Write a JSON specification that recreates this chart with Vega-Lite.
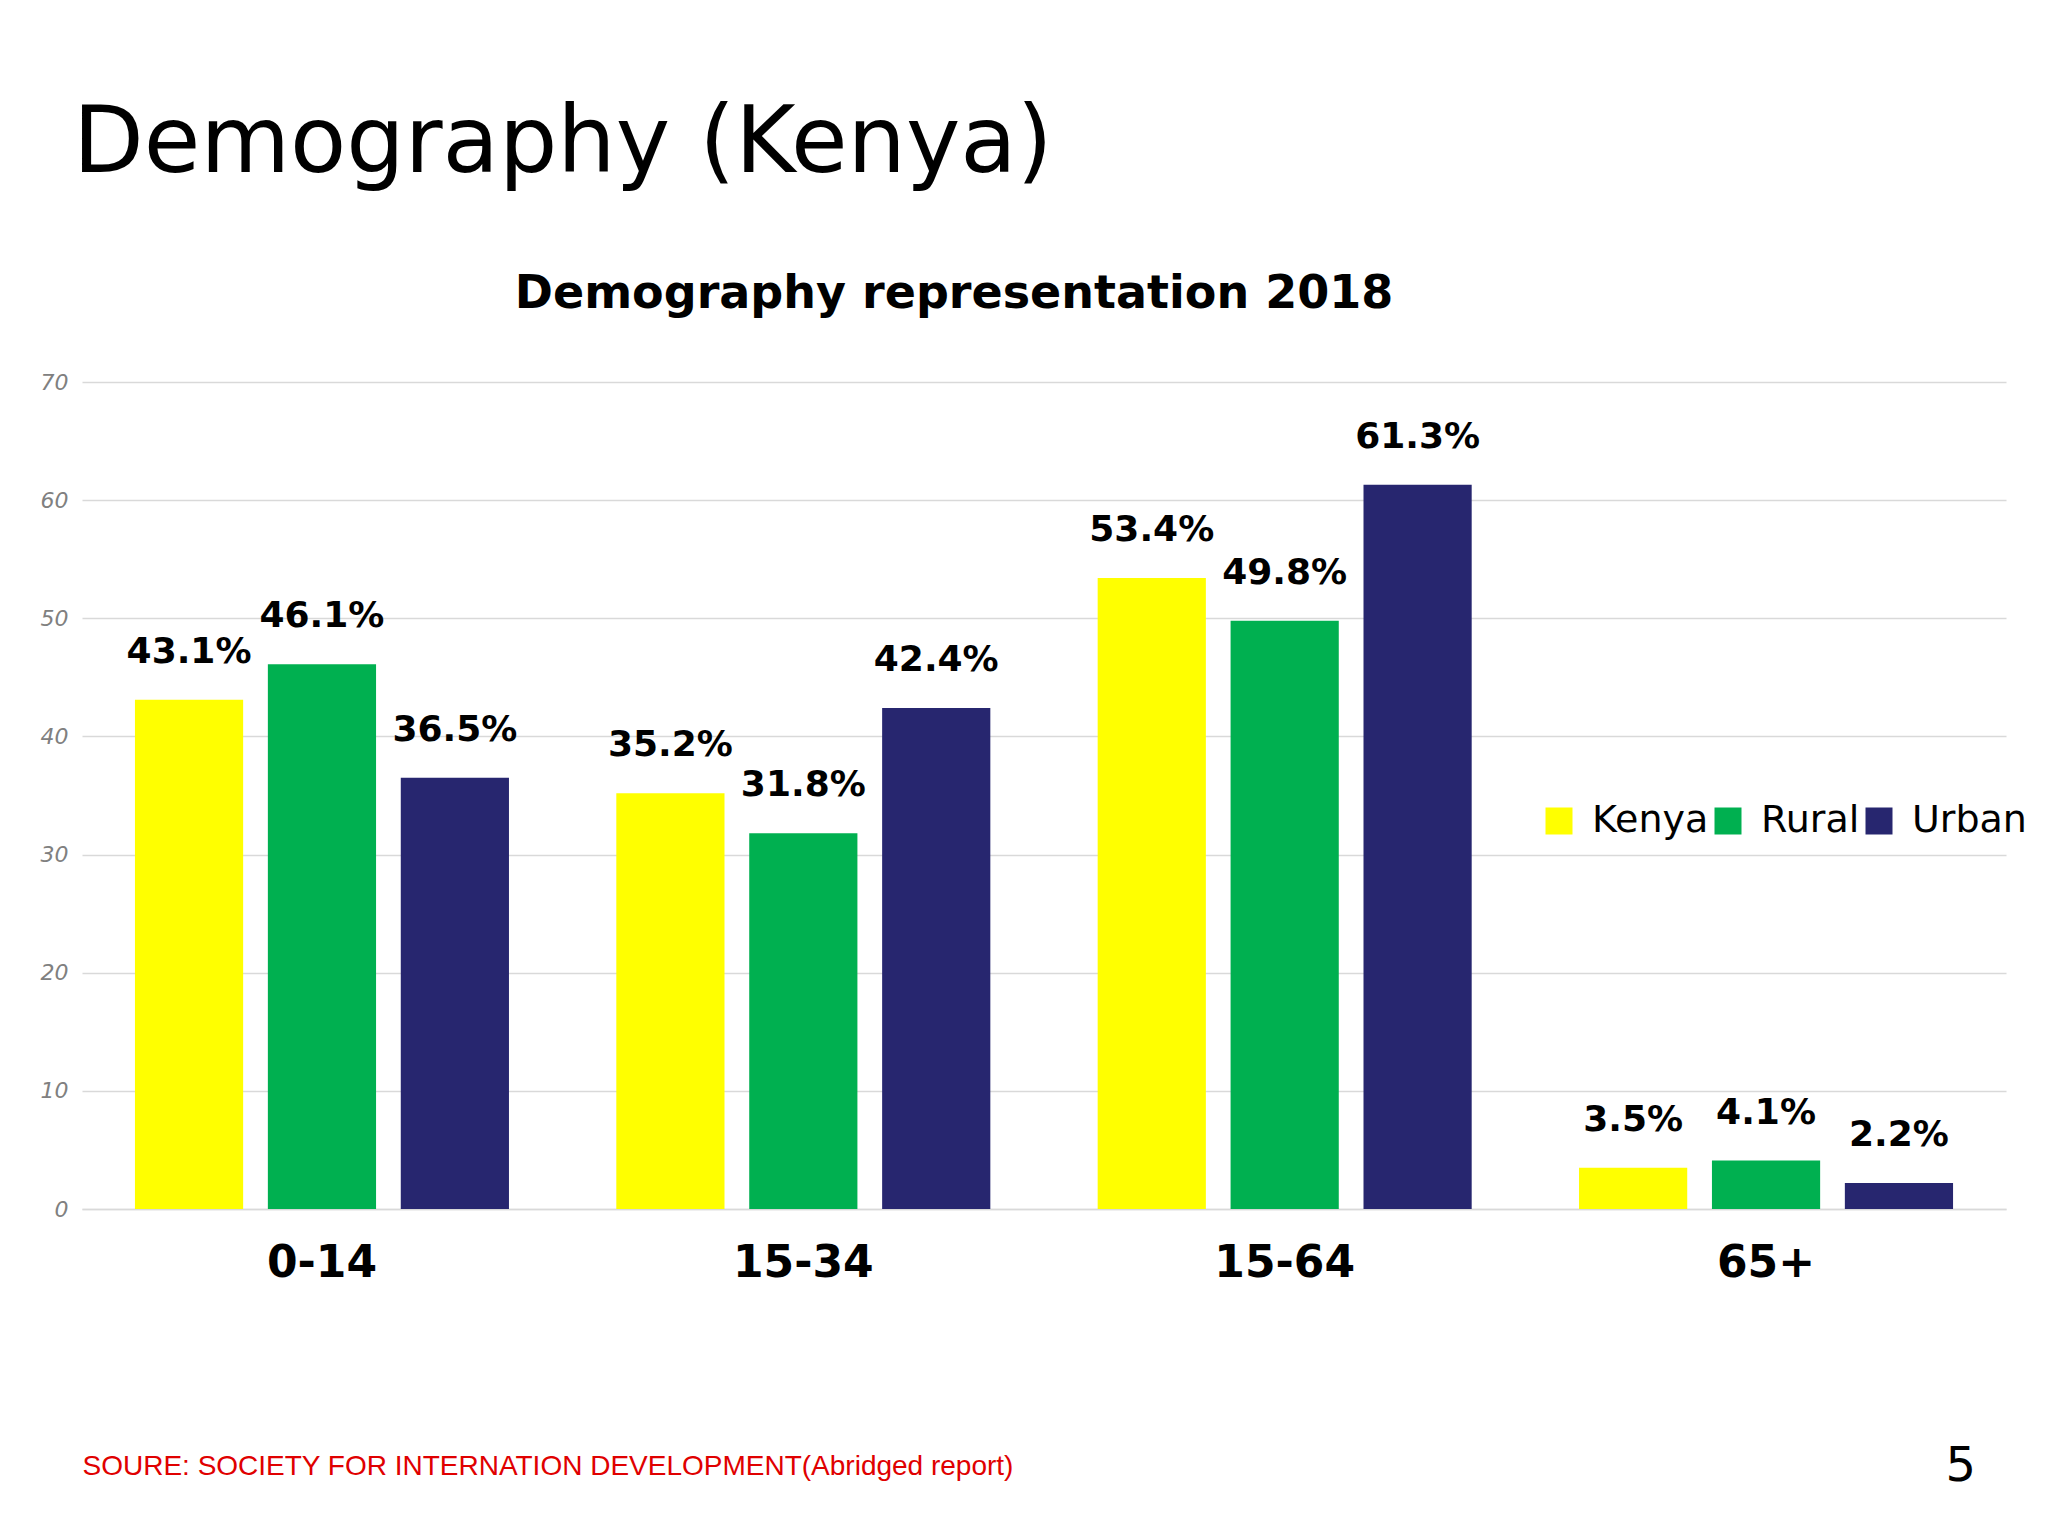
{
  "$schema": "https://vega.github.io/schema/vega-lite/v6.json",
  "background": "white",
  "padding": {"left": 40, "top": 98, "right": 0, "bottom": 0},
  "title": {"text": "Demography (Kenya)", "anchor": "start", "font": "DejaVu Sans", "fontSize": 92, "fontWeight": "normal", "color": "black", "offset": 80, "dx": 33},
  "config": {
    "font": "DejaVu Sans",
    "view": {"stroke": null},
    "concat": {"spacing": 0}
  },
  "vconcat": [
    {
      "title": {"text": "5", "orient": "bottom", "anchor": "end", "font": "DejaVu Sans", "fontSize": 48, "fontWeight": "normal", "color": "black", "offset": -37, "dx": -30},
      "vconcat": [
        {
          "title": {"text": "Demography representation 2018", "anchor": "middle", "font": "DejaVu Sans", "fontSize": 46, "fontWeight": "bold", "color": "black", "offset": 53, "dx": -90},
          "width": 1924,
          "height": 827,
          "data": {
            "values": [
              {"age": "0-14", "group": "Kenya", "value": 43.1},
              {"age": "0-14", "group": "Rural", "value": 46.1},
              {"age": "0-14", "group": "Urban", "value": 36.5},
              {"age": "15-34", "group": "Kenya", "value": 35.2},
              {"age": "15-34", "group": "Rural", "value": 31.8},
              {"age": "15-34", "group": "Urban", "value": 42.4},
              {"age": "15-64", "group": "Kenya", "value": 53.4},
              {"age": "15-64", "group": "Rural", "value": 49.8},
              {"age": "15-64", "group": "Urban", "value": 61.3},
              {"age": "65+", "group": "Kenya", "value": 3.5},
              {"age": "65+", "group": "Rural", "value": 4.1},
              {"age": "65+", "group": "Urban", "value": 2.2}
            ]
          },
          "encoding": {
            "x": {
              "field": "age", "type": "nominal", "sort": ["0-14", "15-34", "15-64", "65+"],
              "scale": {"paddingInner": 0.223, "paddingOuter": 0.11},
              "axis": {
                "labelAngle": 0, "labelFontSize": 44, "labelFontWeight": "bold", "labelColor": "black", "labelPadding": 32,
                "ticks": false, "domainColor": "#D9D9D9", "domainWidth": 1.5,
                "title": "SOURE: SOCIETY FOR INTERNATION DEVELOPMENT(Abridged report)",
                "titleFont": "Liberation Sans", "titleFontSize": 28, "titleFontWeight": "normal", "titleColor": "#E00000",
                "titleAnchor": "start", "titleAlign": "left", "titlePadding": 167
              }
            },
            "xOffset": {"field": "group", "type": "nominal", "sort": ["Kenya", "Rural", "Urban"], "scale": {"paddingInner": 0.186}},
            "y": {
              "field": "value", "type": "quantitative",
              "scale": {"domain": [0, 70], "nice": false},
              "axis": {
                "values": [0, 10, 20, 30, 40, 50, 60, 70], "title": null,
                "labelFontSize": 22, "labelFontStyle": "italic", "labelColor": "#808080", "labelPadding": 14,
                "domain": false, "ticks": false, "gridColor": "#D9D9D9", "gridWidth": 1.5
              }
            }
          },
          "layer": [
            {
              "mark": {"type": "bar"},
              "encoding": {
                "color": {
                  "field": "group", "type": "nominal",
                  "scale": {"domain": ["Kenya", "Rural", "Urban"], "range": ["#FFFF00", "#00B050", "#27266F"]},
                  "legend": {
                    "orient": "none", "legendX": 1458, "legendY": 420, "direction": "horizontal", "title": null,
                    "symbolType": "square", "symbolSize": 729, "symbolStrokeWidth": 0,
                    "labelFontSize": 38, "labelColor": "black", "labelOffset": 14, "columnPadding": 0, "padding": 0
                  }
                }
              }
            },
            {
              "mark": {"type": "text", "fontSize": 36, "fontWeight": "bold", "color": "black", "baseline": "middle", "dy": -48,
                "text": {"expr": "format(datum.value, '.1f') + '%'"}}
            }
          ]
        }
      ]
    }
  ]
}
